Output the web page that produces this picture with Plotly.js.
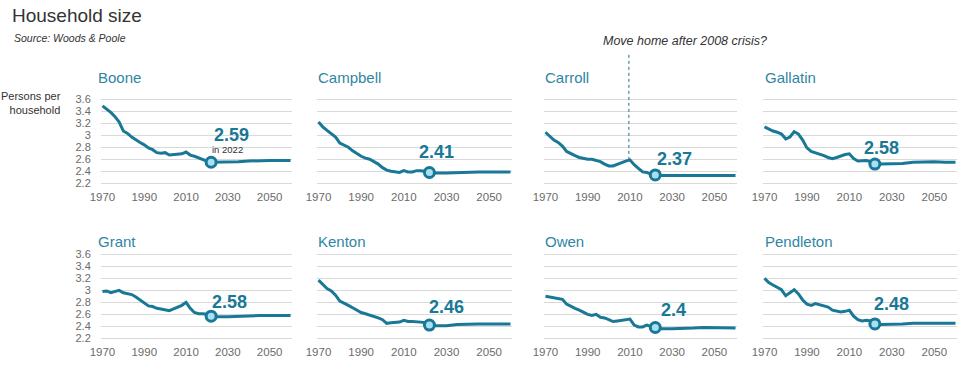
<!DOCTYPE html>
<html><head><meta charset="utf-8">
<script src="https://cdn.plot.ly/plotly-3.0.1.min.js"></script>
<style>html,body{margin:0;padding:0;background:#fff}#chart{width:971px;height:367px}</style>
</head><body><div id="chart"></div>
<script>
// ---- data ----
const years = [1970,1972,1974,1976,1978,1980,1982,1984,1986,1988,1990,1992,1994,1996,1998,2000,2002,2004,2006,2008,2010,2012,2014,2016,2018,2020,2022,2025,2030,2035,2040,2045,2050,2055,2060];
const boone     = [3.49,3.44,3.38,3.31,3.22,3.07,3.03,2.97,2.92,2.88,2.84,2.79,2.76,2.71,2.70,2.71,2.67,2.68,2.68,2.69,2.72,2.67,2.65,2.62,2.59,2.57,2.55,2.55,2.55,2.56,2.57,2.58,2.58,2.58,2.58];
const campbell  = [3.22,3.14,3.08,3.03,2.97,2.87,2.84,2.80,2.74,2.69,2.65,2.62,2.60,2.56,2.52,2.46,2.42,2.40,2.39,2.38,2.41,2.39,2.39,2.41,2.41,2.40,2.38,2.37,2.37,2.38,2.38,2.39,2.39,2.39,2.39];
const carroll   = [3.05,2.98,2.92,2.88,2.82,2.73,2.69,2.66,2.63,2.61,2.60,2.60,2.58,2.56,2.52,2.49,2.49,2.52,2.54,2.57,2.59,2.51,2.45,2.39,2.38,2.35,2.34,2.33,2.33,2.33,2.34,2.34,2.34,2.33,2.33];
const gallatin  = [3.14,3.10,3.07,3.05,3.02,2.94,2.97,3.06,3.02,2.92,2.79,2.73,2.71,2.69,2.66,2.63,2.61,2.63,2.66,2.68,2.69,2.61,2.57,2.58,2.58,2.56,2.52,2.52,2.52,2.53,2.55,2.56,2.56,2.55,2.55];
const grant     = [2.98,2.99,2.96,2.98,3.00,2.96,2.94,2.93,2.89,2.84,2.78,2.74,2.73,2.70,2.69,2.67,2.66,2.69,2.72,2.75,2.80,2.70,2.63,2.61,2.61,2.60,2.57,2.56,2.56,2.57,2.58,2.58,2.58,2.58,2.58];
const kenton    = [3.17,3.10,3.03,2.99,2.92,2.82,2.79,2.75,2.71,2.67,2.63,2.61,2.59,2.57,2.54,2.51,2.45,2.46,2.46,2.47,2.50,2.48,2.48,2.48,2.47,2.46,2.42,2.41,2.41,2.43,2.44,2.44,2.44,2.44,2.44];
const owen      = [2.90,2.89,2.87,2.86,2.85,2.77,2.73,2.70,2.67,2.63,2.60,2.58,2.60,2.55,2.54,2.51,2.48,2.49,2.50,2.52,2.52,2.42,2.39,2.39,2.42,2.40,2.38,2.36,2.36,2.36,2.37,2.38,2.38,2.37,2.37];
const pendleton = [3.20,3.13,3.09,3.05,3.01,2.91,2.96,3.01,2.94,2.84,2.77,2.75,2.78,2.76,2.75,2.72,2.67,2.65,2.64,2.65,2.67,2.57,2.51,2.49,2.50,2.49,2.44,2.43,2.43,2.44,2.45,2.45,2.45,2.45,2.45];

const counties = ['Boone','Campbell','Carroll','Gallatin','Grant','Kenton','Owen','Pendleton'];
const seriesList = [boone,campbell,carroll,gallatin,grant,kenton,owen,pendleton];
const labels2022 = ['2.59','2.41','2.37','2.58','2.58','2.46','2.4','2.48'];
const markerYear = 2022;
const crisisYear = 2009.5;
const xTickVals = [1970,1990,2010,2030,2050];
const yTickVals = [2.2,2.4,2.6,2.8,3,3.2,3.4,3.6];
const yTickText = ['2.2','2.4','2.6','2.8','3','3.2','3.4','3.6'];

// ---- style / layout ----
const W = 971, H = 367;
const TEAL = '#197896', TITLE_TEAL = '#2f86a3', FILL = '#a6e0f2';
const FONT = 'Liberation Sans, Arial, sans-serif';
const colPx = [[101,292],[317,512],[544,737],[763,957]];
const rowPx = [[98,184.5],[253.2,339.5]];
const titleLeft = [95.7,316,543,763];
const titleY = [77,241];
const labelShift = [[20,27],[7,20],[19,16],[7,16],[18,14],[17,18],[18,18],[17,20]];

const traces = [], annotations = [], shapes = [];
const layout = {
  width: W, height: H, margin: {l:0,r:0,t:0,b:0},
  paper_bgcolor: '#fff', plot_bgcolor: '#fff',
  showlegend: false, hovermode: false,
  font: {family: FONT, color: '#333'},
  title: {text: 'Household size', font: {family: FONT, size: 19, color: '#333'},
          xref: 'paper', yref: 'paper', x: 12/W, xanchor: 'left', y: 1 - 15/H, yanchor: 'middle'},
  annotations: annotations, shapes: shapes
};

seriesList.forEach((ser, i) => {
  const n = i + 1, col = i % 4, row = Math.floor(i / 4);
  const xa = 'x' + (n > 1 ? n : ''), ya = 'y' + (n > 1 ? n : '');
  const xKey = 'xaxis' + (n > 1 ? n : ''), yKey = 'yaxis' + (n > 1 ? n : '');
  layout[xKey] = {
    domain: [colPx[col][0]/W, colPx[col][1]/W], anchor: ya,
    range: [1969.3, 2060.7], tickvals: xTickVals, showgrid: false, zeroline: false, showline: false,
    ticks: 'outside', ticklen: 2, tickcolor: 'rgba(0,0,0,0)',
    tickfont: {family: FONT, size: 11.5, color: '#6b6b6b'}, fixedrange: true
  };
  layout[yKey] = {
    domain: [1 - rowPx[row][1]/H, 1 - rowPx[row][0]/H], anchor: xa,
    range: [2.18, 3.62], tickvals: yTickVals, ticktext: yTickText,
    showgrid: true, gridcolor: '#d9d9d9', gridwidth: 1, zeroline: false, showline: false,
    showticklabels: col === 0, ticks: 'outside', ticklen: 7, tickcolor: 'rgba(0,0,0,0)',
    tickfont: {family: FONT, size: 11, color: '#6b6b6b'}, fixedrange: true
  };
  traces.push({x: years, y: ser, xaxis: xa, yaxis: ya, mode: 'lines', type: 'scatter',
               line: {color: TEAL, width: 3}, hoverinfo: 'skip'});
  const mv = ser[years.indexOf(markerYear)];
  traces.push({x: [markerYear], y: [mv], xaxis: xa, yaxis: ya, mode: 'markers', type: 'scatter',
               marker: {size: 10, color: FILL, line: {color: TEAL, width: 3}}, hoverinfo: 'skip', cliponaxis: false});
  annotations.push({text: counties[i], xref: 'paper', yref: 'paper', x: titleLeft[col]/W, xanchor: 'left',
                    y: 1 - titleY[row]/H, yanchor: 'middle', showarrow: false,
                    font: {family: FONT, size: 15, color: TITLE_TEAL}});
  annotations.push({text: '<b>' + labels2022[i] + '</b>', xref: xa, yref: ya, x: markerYear, y: mv,
                    xshift: labelShift[i][0], yshift: labelShift[i][1], showarrow: false,
                    xanchor: 'center', yanchor: 'middle', font: {family: FONT, size: 18, color: TEAL}});
  if (i === 0) {
    annotations.push({text: 'in ' + markerYear, xref: xa, yref: ya, x: markerYear, y: mv,
                      xshift: 16, yshift: 13, showarrow: false, xanchor: 'center', yanchor: 'middle',
                      font: {family: FONT, size: 9.5, color: '#333'}});
  }
  if (counties[i] === 'Carroll') {
    const yIdx = years.indexOf(2010);
    const dom = layout[yKey].domain, rg = layout[yKey].range;
    const yFrac = dom[0] + (ser[yIdx] - rg[0]) / (rg[1] - rg[0]) * (dom[1] - dom[0]);
    shapes.push({type: 'line', xref: xa, yref: 'paper', x0: crisisYear, x1: crisisYear,
                 y0: yFrac, y1: 1 - 52/H, line: {color: '#2a6a84', width: 1, dash: '3px,3px'}});
  }
});

annotations.push({text: '<i>Source: Woods &amp; Poole</i>', xref: 'paper', yref: 'paper', x: 12/W, xanchor: 'left',
                  y: 1 - 38/H, yanchor: 'middle', showarrow: false, font: {family: FONT, size: 10.5, color: '#333'}});
annotations.push({text: 'Persons per<br>household', xref: 'paper', yref: 'paper', x: 63/W, xanchor: 'right', align: 'right',
                  y: 1 - 103/H, yanchor: 'middle', showarrow: false, font: {family: FONT, size: 11, color: '#333'}});
annotations.push({text: '<i>Move home after 2008 crisis?</i>', xref: 'paper', yref: 'paper', x: 600.5/W, xanchor: 'left',
                  y: 1 - 41/H, yanchor: 'middle', showarrow: false, font: {family: FONT, size: 12.5, color: '#333'}});

Plotly.newPlot('chart', traces, layout, {staticPlot: true, displayModeBar: false});
</script>
</body></html>
